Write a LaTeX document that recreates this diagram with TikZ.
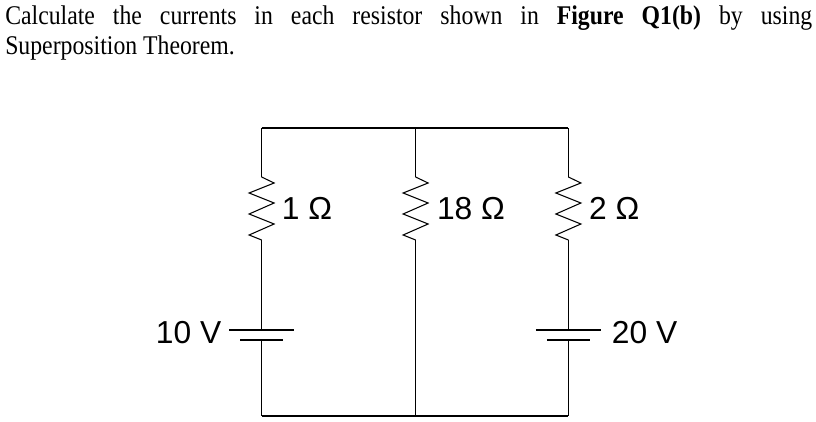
\documentclass[tikz,border=0pt]{standalone}
\usepackage{fontspec}
\setmainfont{Liberation Sans}
\newfontfamily\questionfont[FakeStretch=0.88]{Liberation Serif}
\usetikzlibrary{positioning}
\tikzset{
	wire/.style={line width=0.75pt,black},
	value/.style={inner sep=0pt,anchor=base west,font=\fontsize{22.6pt}{26pt}\selectfont},
	zigzag/.pic={
		\draw[wire,line join=miter] (0,0) -- (0.3125,-0.15) -- (-0.3125,-0.4) -- (0.3125,-0.65) -- (-0.3125,-0.925) -- (0.3125,-1.175) -- (-0.3125,-1.45) -- (0,-1.575);
	},
	cell/.pic={
		\draw[wire] (-0.8125,0) -- (0.8125,0);
		\draw[wire] (-0.5375,-0.25) -- (0.5375,-0.25);
	}
}
\begin{document}
\begin{tikzpicture}
	\useasboundingbox (0,0) rectangle (20.4,10.525);
	% question text
	\node[inner sep=0pt,anchor=north west,text width=20.175cm,align=justify,font=\questionfont\fontsize{19.2pt}{22pt}\selectfont] (question) at (0.125,10.4)
		{Calculate the currents in each resistor shown in \textbf{Figure Q1(b)} by using\linebreak Superposition Theorem.};
	% corners and junctions
	\coordinate (topL) at (6.54,7.325);
	\coordinate (topM) at (10.39,7.325);
	\coordinate (topR) at (14.21,7.325);
	\coordinate (botL) at (6.54,0.125);
	\coordinate (botM) at (10.39,0.125);
	\coordinate (botR) at (14.21,0.125);
	% resistors
	\coordinate (resLtop) at (6.54,6.1);
	\coordinate (resLbot) at (6.54,4.525);
	\coordinate (resMtop) at (10.39,6.1);
	\coordinate (resMbot) at (10.39,4.525);
	\coordinate (resRtop) at (14.21,6.1);
	\coordinate (resRbot) at (14.21,4.525);
	\pic at (resLtop) {zigzag};
	\pic at (resMtop) {zigzag};
	\pic at (resRtop) {zigzag};
	% batteries
	\coordinate (batLtop) at (6.54,2.275);
	\coordinate (batLbot) at (6.54,2.025);
	\coordinate (batRtop) at (14.21,2.275);
	\coordinate (batRbot) at (14.21,2.025);
	\pic at (batLtop) {cell};
	\pic at (batRtop) {cell};
	% wires
	\draw[wire] (topL) -- (topM) -- (topR);
	\draw[wire] (botL) -- (botM) -- (botR);
	\draw[wire] (topL) -- (resLtop);
	\draw[wire] (resLbot) -- (batLtop);
	\draw[wire] (batLbot) -- (botL);
	\draw[wire] (topM) -- (resMtop);
	\draw[wire] (resMbot) -- (botM);
	\draw[wire] (topR) -- (resRtop);
	\draw[wire] (resRbot) -- (batRtop);
	\draw[wire] (batRbot) -- (botR);
	% values
	\node[value] (valA) at (7.04,5.05) {1 Ω};
	\node[value] (valB) at (10.92,5.05) {18 Ω};
	\node[value] (valC) at (14.72,5.05) {2 Ω};
	\node[value] (valD) at (3.89,1.95) {10 V};
	\node[value] (valE) at (15.29,1.95) {20 V};
\end{tikzpicture}
\end{document}
